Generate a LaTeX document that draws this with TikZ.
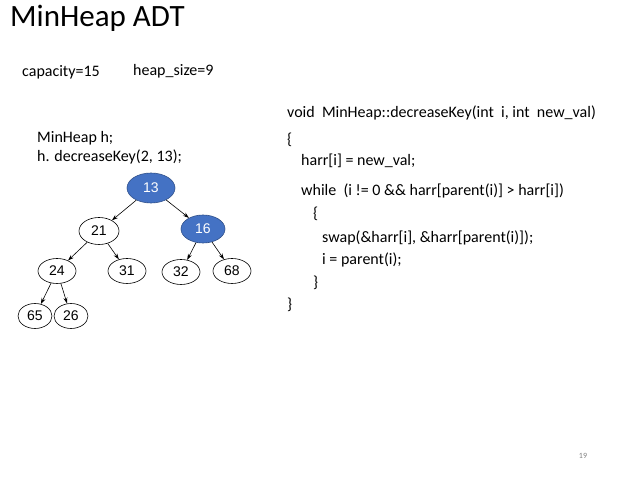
\documentclass[tikz,border=0pt]{standalone}
\usepackage{fontspec}
\setmainfont{Carlito}
\newfontfamily\arial{Liberation Sans}
\usetikzlibrary{shapes.geometric,arrows.meta}
\definecolor{hblue}{HTML}{4472C4}
\begin{document}
\begin{tikzpicture}[x=1pt,y=-1pt,
  hn/.style={ellipse,draw=black,line width=0.6pt,minimum width=38pt,minimum height=25pt,inner sep=0pt,font=\arial\fontsize{14}{16}\selectfont},
  hb/.style={hn,fill=hblue,draw=hblue!70!black,text=white},
  ed/.style={-{Stealth[length=6pt,width=4pt]},line width=0.6pt},
  tx/.style={anchor=west,inner sep=0pt,font=\fontsize{16}{18}\selectfont}]
\useasboundingbox (0,0) rectangle (638,478);
\node[anchor=west,inner sep=0pt,font=\fontsize{31}{34}\selectfont] (title) at (10,18) {MinHeap ADT};
\node[tx] (cap) at (22,72) {capacity=15};
\node[tx] (hs) at (133,71) {heap\_size=9};
\node[tx] (m1) at (37,138) {MinHeap h;};
\node[tx] (m2) at (37,157) {h. decreaseKey(2, 13);};
\node[tx] (c1) at (287,113) {void\ \ MinHeap::decreaseKey(int\ \ i,\ int\ \ new\_val)};
\node[tx] (c2) at (287,140) {\{};
\node[tx] (c3) at (301,161) {harr[i] = new\_val;};
\node[tx] (c4) at (301,191) {while\ \ (i != 0 \&\& harr[parent(i)] > harr[i])};
\node[tx] (c5) at (313,214) {\{};
\node[tx] (c6) at (322,238) {swap(\&harr[i], \&harr[parent(i)]);};
\node[tx] (c7) at (322,260) {i = parent(i);};
\node[tx] (c8) at (313,283) {\}};
\node[tx] (c9) at (287,305) {\}};
\node[hb,minimum width=48pt,minimum height=30pt] (n13) at (151,188) {13};
\node[hn,minimum width=40pt,minimum height=27pt] (n21) at (99,231) {21};
\node[hb,minimum width=44pt,minimum height=28pt] (n16) at (203,229) {16};
\node[hn] (n24) at (57,271) {24};
\node[hn] (n31) at (127,271) {31};
\node[hn] (n32) at (181,272) {32};
\node[hn] (n68) at (232,271) {68};
\node[hn,minimum width=34pt] (n65) at (35,316) {65};
\node[hn,minimum width=34pt] (n26) at (71,316) {26};
\draw[ed] (n13) -- (n21);
\draw[ed] (n13) -- (n16);
\draw[ed] (n21) -- (n24);
\draw[ed] (n21) -- (n31);
\draw[ed] (n16) -- (n32);
\draw[ed] (n16) -- (n68);
\draw[ed] (n24) -- (n65);
\draw[ed] (n24) -- (n26);
\node[inner sep=0pt,text=gray,font=\fontsize{8}{9}\selectfont] (pg) at (583,456) {19};
\end{tikzpicture}
\end{document}
